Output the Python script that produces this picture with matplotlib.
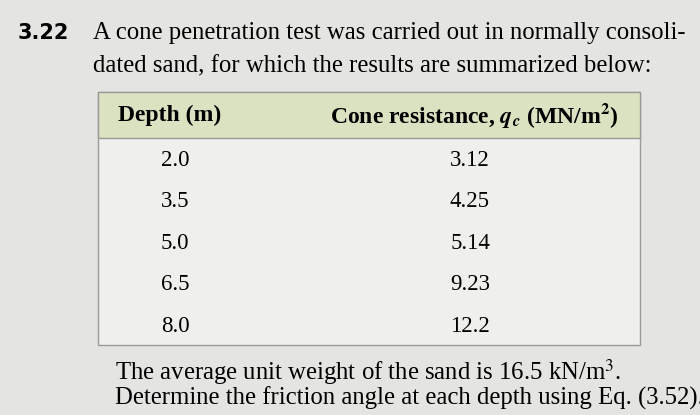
import matplotlib.pyplot as plt
from matplotlib.patches import Rectangle

plt.rcParams["mathtext.fontset"] = "stix"

depths = ["2.0", "3.5", "5.0", "6.5", "8.0"]
qc = ["3.12", "4.25", "5.14", "9.23", "12.2"]

fig = plt.figure(figsize=(7, 4.15), dpi=100)
fig.patch.set_facecolor("#e4e4e2")
ax = fig.add_axes([0, 0, 1, 1])
ax.set_xlim(0, 700)
ax.set_ylim(415, 0)
ax.axis("off")

serif = "Liberation Serif"
fs = 17.8

ax.text(18, 33, "3.22", fontsize=15, fontweight="bold", family="DejaVu Sans", va="center")
ax.text(93, 33, "A cone penetration test was carried out in normally consoli-",
        fontsize=fs, family=serif, va="center")
ax.text(93, 66, "dated sand, for which the results are summarized below:",
        fontsize=fs, family=serif, va="center")

# table
ax.add_patch(Rectangle((98, 92), 542, 253, facecolor="#efefed", edgecolor="#9a9a9a", lw=1))
ax.add_patch(Rectangle((98, 92), 542, 46, facecolor="#dbe2c2", edgecolor="#9a9a9a", lw=1))
ax.text(118, 115, "Depth (m)", fontsize=17, family=serif, fontweight="bold", va="center")
ax.text(330, 115, r"Cone resistance, $\mathbfit{q_c}$ (MN/m$^{\mathbf{2}}$)",
        fontsize=17, family=serif, fontweight="bold", va="center")

for i, (d, q) in enumerate(zip(depths, qc)):
    y = 160 + i * 41.5
    ax.text(175, y, d, fontsize=16.5, family=serif, ha="center", va="center")
    ax.text(470, y, q, fontsize=16.5, family=serif, ha="center", va="center")

ax.text(115, 372, r"The average unit weight of the sand is 16.5 kN/m$^3$.",
        fontsize=fs, family=serif, va="center")
ax.text(115, 398, "Determine the friction angle at each depth using Eq. (3.52).",
        fontsize=fs, family=serif, va="center")

fig.savefig("out.png", dpi=100, facecolor=fig.get_facecolor())
